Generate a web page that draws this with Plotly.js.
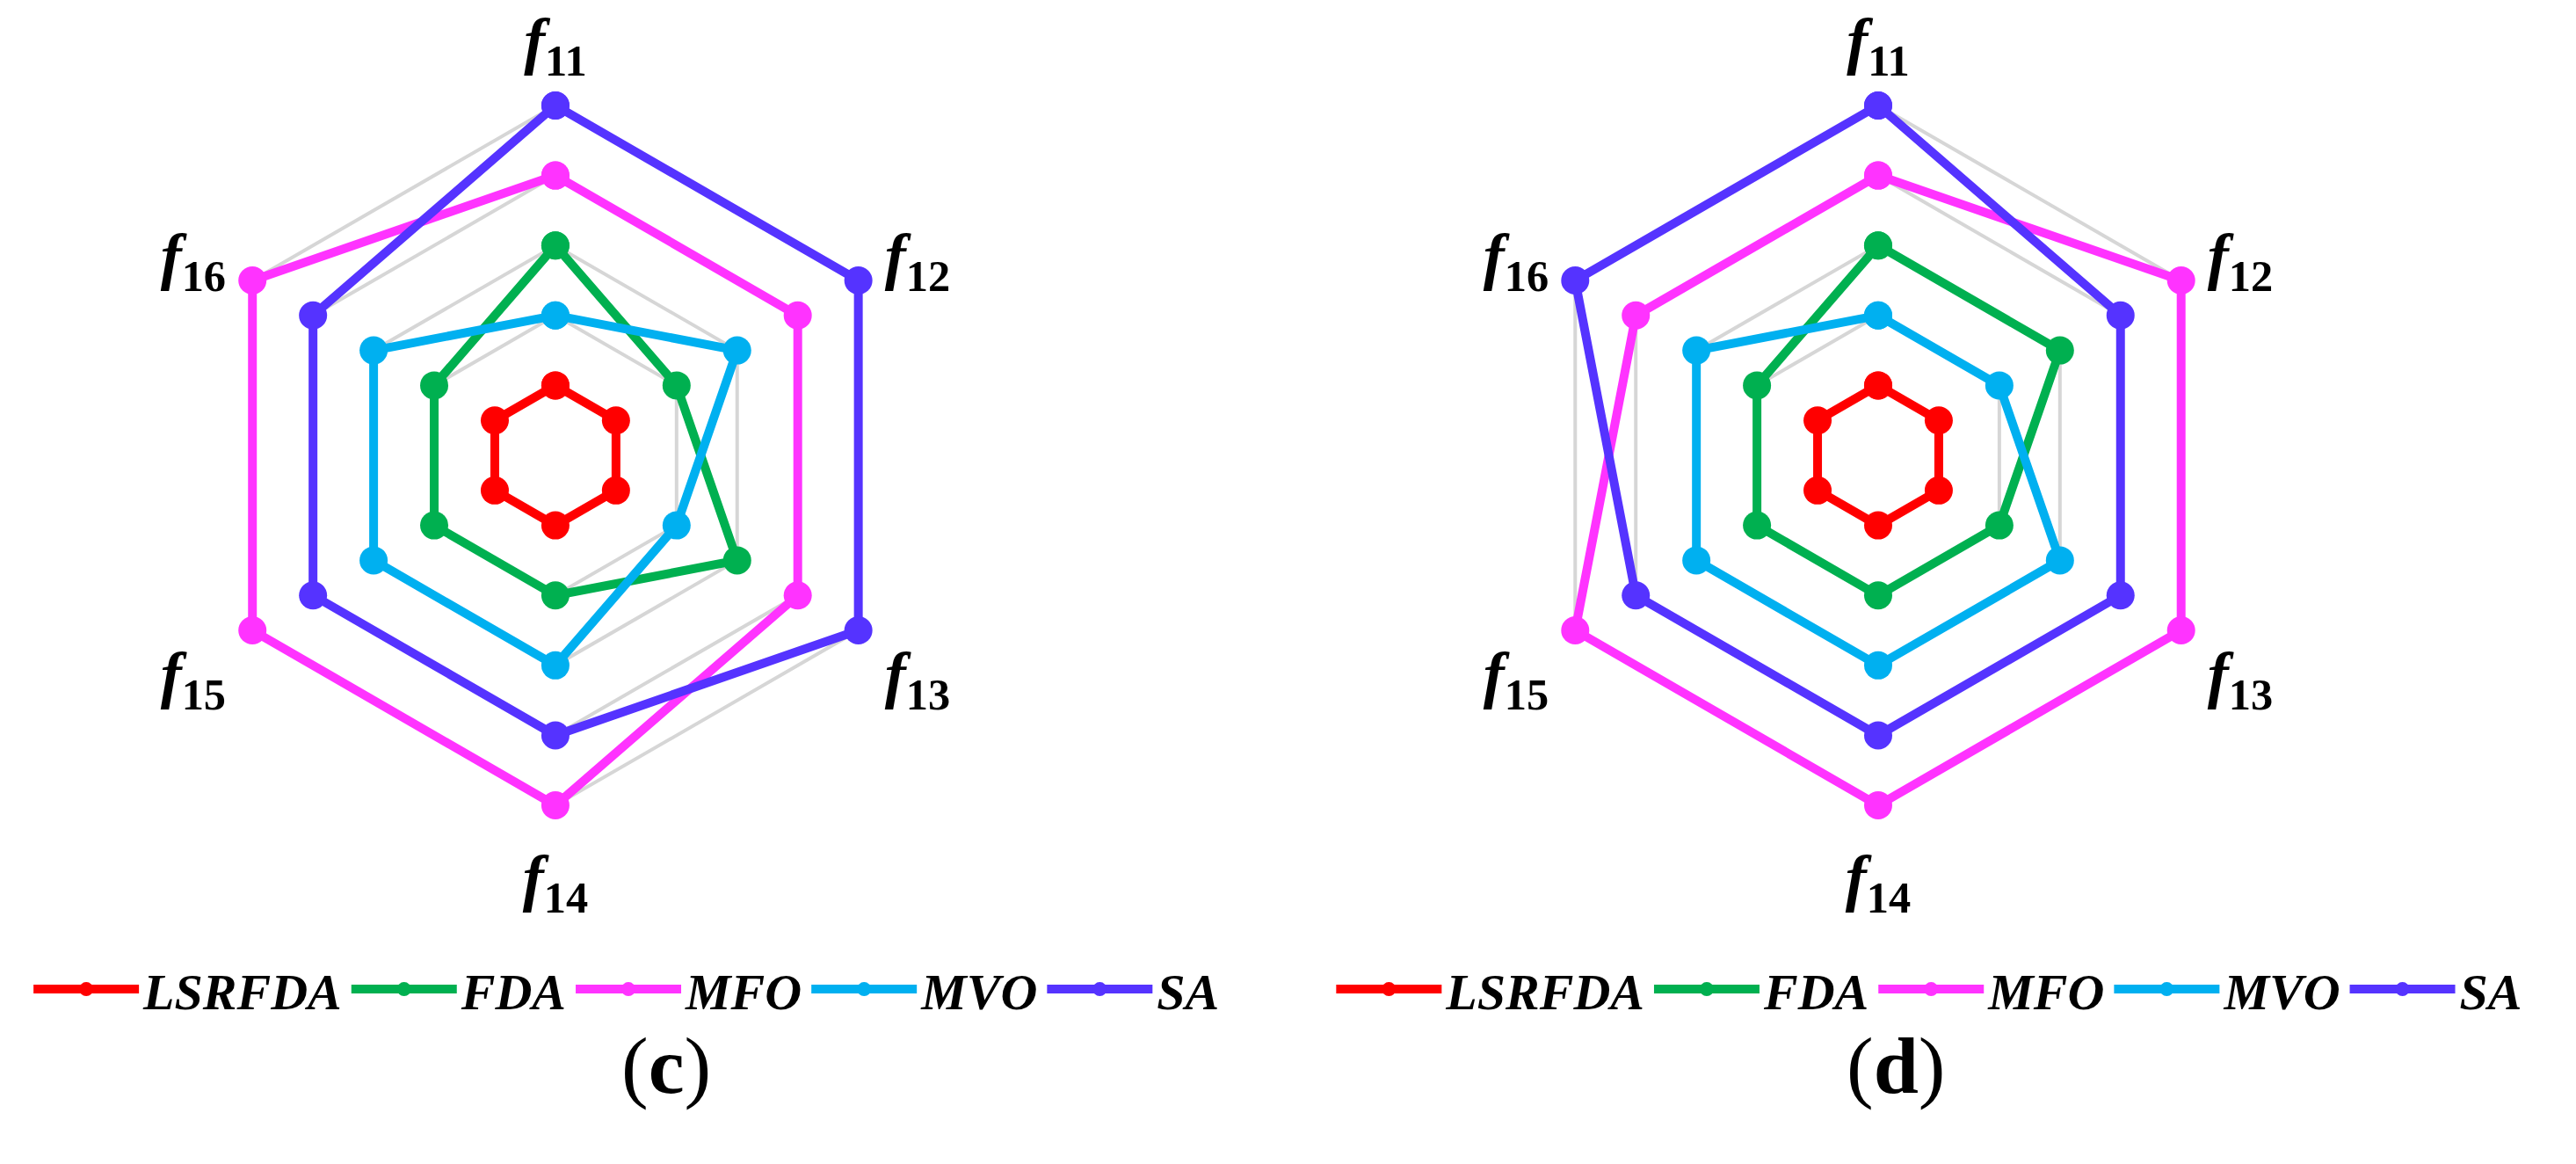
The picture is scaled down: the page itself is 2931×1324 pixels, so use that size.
<!DOCTYPE html>
<html>
<head>
<meta charset="utf-8">
<script src="https://cdn.plot.ly/plotly-3.0.1.min.js"></script>
<style>html,body{margin:0;padding:0;background:#fff;}#chart{width:2931px;height:1324px;}</style>
</head>
<body>
<div id="chart"></div>
<script>
// ---- data ----
var categories = ['f11', 'f12', 'f13', 'f14', 'f15', 'f16'];
var tickLabels = ['11', '12', '13', '14', '15', '16'];
var seriesNames = ['LSRFDA', 'FDA', 'MFO', 'MVO', 'SA'];
var seriesColors = ['#FF0000', '#00B050', '#FF33FF', '#00B0F0', '#5533FF'];

// panel (c)
var c_LSRFDA = [1, 1, 1, 1, 1, 1];
var c_FDA    = [3, 2, 3, 2, 2, 2];
var c_MFO    = [4, 4, 4, 5, 5, 5];
var c_MVO    = [2, 3, 2, 3, 3, 3];
var c_SA     = [5, 5, 5, 4, 4, 4];

// panel (d)
var d_LSRFDA = [1, 1, 1, 1, 1, 1];
var d_FDA    = [3, 3, 2, 2, 2, 2];
var d_MFO    = [4, 5, 5, 5, 5, 4];
var d_MVO    = [2, 2, 3, 3, 3, 3];
var d_SA     = [5, 4, 4, 4, 4, 5];

var panelC = [c_LSRFDA, c_FDA, c_MFO, c_MVO, c_SA];
var panelD = [d_LSRFDA, d_FDA, d_MFO, d_MVO, d_SA];

// ---- build ----
var SERIF = '"Liberation Serif", "Times New Roman", Times, serif';
function closed(a) { return a.concat([a[0]]); }
var traces = [];
function addPanel(data, subplot, legendId) {
  data.forEach(function (vals, i) {
    traces.push({
      type: 'scatterpolar',
      subplot: subplot,
      legend: legendId,
      r: closed(vals),
      theta: closed(categories),
      mode: 'lines+markers',
      name: seriesNames[i],
      line: {color: seriesColors[i], width: 10},
      marker: {color: seriesColors[i], size: 32},
      cliponaxis: false
    });
  });
}
addPanel(panelC, 'polar', 'legend');
addPanel(panelD, 'polar2', 'legend2');

var tickText = tickLabels.map(function (t) { return '<b><i>f</i><sub>' + t + '</sub></b>'; });

function polarCfg(xd, yd) {
  return {
    domain: {x: xd, y: yd},
    gridshape: 'linear',
    bgcolor: 'rgba(0,0,0,0)',
    radialaxis: {
      range: [0, 5.15], dtick: 1, tick0: 0,
      showticklabels: false, ticks: '', showline: false,
      gridcolor: '#d6d6d6', gridwidth: 4
    },
    angularaxis: {
      type: 'category',
      categoryorder: 'array', categoryarray: categories,
      direction: 'clockwise', rotation: 90,
      showgrid: false, ticks: 'outside', ticklen: 8, tickcolor: 'rgba(0,0,0,0)',
      tickmode: 'array', tickvals: categories, ticktext: tickText,
      tickfont: {family: SERIF, size: 72, color: '#000'},
      showline: false
    }
  };
}

var legendFont = {family: SERIF, size: 58, color: '#000', weight: 'bold', style: 'italic'};
var layout = {
  width: 2931, height: 1324,
  margin: {l: 0, r: 0, t: 0, b: 0},
  paper_bgcolor: '#fff',
  showlegend: true,
  font: {family: SERIF},
  polar: polarCfg([0.0757, 0.3555], [0.2991, 0.9184]),
  polar2: polarCfg([0.5892, 0.8690], [0.2991, 0.9184]),
  legend: {orientation: 'h', x: 0.0113, xanchor: 'left', y: 0.15, yanchor: 'middle',
           font: legendFont, itemwidth: 120, bgcolor: 'rgba(0,0,0,0)'},
  legend2: {orientation: 'h', x: 0.517, xanchor: 'left', y: 0.15, yanchor: 'middle',
            font: legendFont, itemwidth: 120, bgcolor: 'rgba(0,0,0,0)'},
  annotations: [
    {text: '(<b>c</b>)', x: 0.2405, y: 0.0446, xref: 'paper', yref: 'paper', showarrow: false,
     font: {family: SERIF, size: 92, color: '#000'}},
    {text: '(<b>d</b>)', x: 0.7557, y: 0.0446, xref: 'paper', yref: 'paper', showarrow: false,
     font: {family: SERIF, size: 92, color: '#000'}}
  ]
};

Plotly.newPlot('chart', traces, layout, {staticPlot: true});
</script>
</body>
</html>
